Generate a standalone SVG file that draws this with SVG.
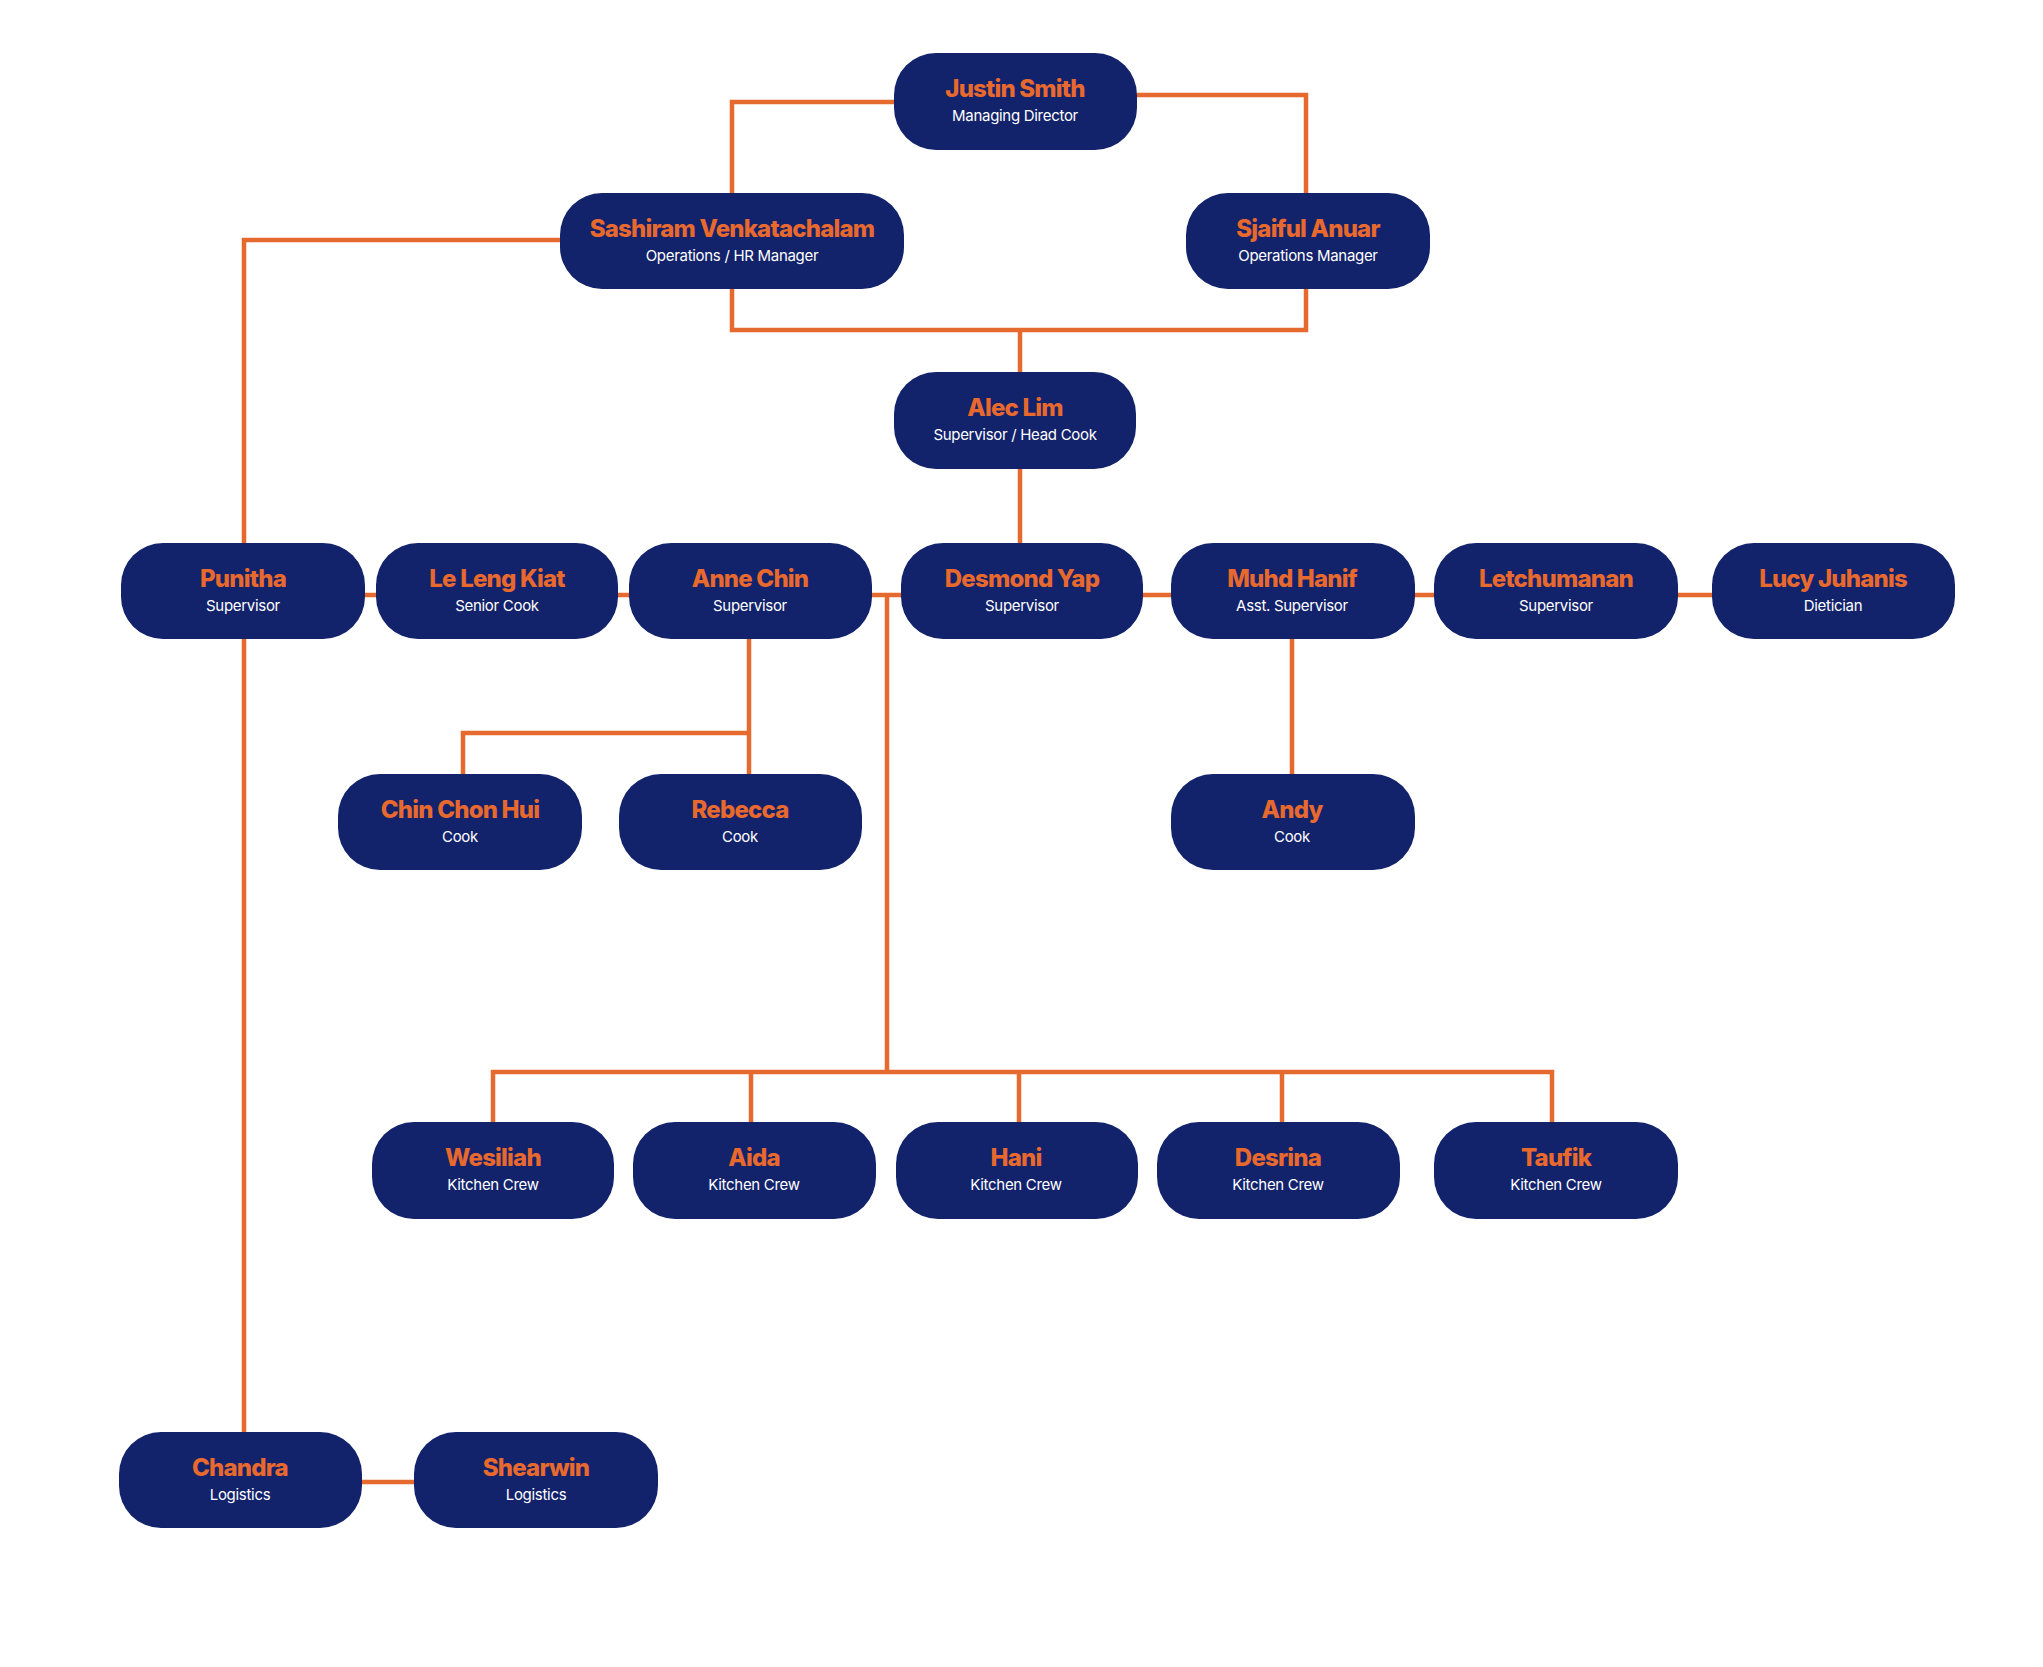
<svg xmlns="http://www.w3.org/2000/svg" width="2043" height="1667" viewBox="0 0 2043 1667">
<style>
.n{fill:#12226b}
.nm{font-family:Inter,"Liberation Sans",sans-serif;font-weight:800;font-size:24px;fill:#e8692e;text-anchor:middle;letter-spacing:-0.8px}
.sb{font-family:Inter,"Liberation Sans",sans-serif;font-weight:400;font-size:15px;fill:#ffffff;text-anchor:middle;letter-spacing:-0.3px}
.c{fill:none;stroke:#e66a2e;stroke-width:4.5}
</style>
<rect width="2043" height="1667" fill="#ffffff"/>
<g id="connectors">
<path class="c" d="M894 102 H732 V193"/>
<path class="c" d="M1137 95 H1306 V193"/>
<path class="c" d="M560 240 H244 V1432"/>
<path class="c" d="M732 289 V330 H1306 V289"/>
<path class="c" d="M1020 330 V372"/>
<path class="c" d="M1020 469 V543"/>
<path class="c" d="M365 595 H1712"/>
<path class="c" d="M749 639 V733 M463 774 V733 H749 V774"/>
<path class="c" d="M887 595 V1072"/>
<path class="c" d="M493 1122 V1072 H1552 V1122 M751 1072 V1122 M1019 1072 V1122 M1282 1072 V1122"/>
<path class="c" d="M1292 639 V774"/>
<path class="c" d="M362 1482 H414"/>
</g>
<g id="justin"><rect class="n" x="894" y="53" width="243" height="97" rx="42"/><text class="nm" x="1015" y="97">Justin Smith</text><text class="sb" x="1015" y="121">Managing Director</text></g>
<g id="sashiram"><rect class="n" x="560" y="193" width="344" height="96" rx="42"/><text class="nm" x="732" y="237">Sashiram Venkatachalam</text><text class="sb" x="732" y="261">Operations / HR Manager</text></g>
<g id="sjaiful"><rect class="n" x="1186" y="193" width="244" height="96" rx="42"/><text class="nm" x="1308" y="237">Sjaiful Anuar</text><text class="sb" x="1308" y="261">Operations Manager</text></g>
<g id="alec"><rect class="n" x="894" y="372" width="242" height="97" rx="42"/><text class="nm" x="1015" y="416">Alec Lim</text><text class="sb" x="1015" y="440">Supervisor / Head Cook</text></g>
<g id="punitha"><rect class="n" x="121" y="543" width="244" height="96" rx="42"/><text class="nm" x="243" y="587">Punitha</text><text class="sb" x="243" y="611">Supervisor</text></g>
<g id="leleng"><rect class="n" x="376" y="543" width="242" height="96" rx="42"/><text class="nm" x="497" y="587">Le Leng Kiat</text><text class="sb" x="497" y="611">Senior Cook</text></g>
<g id="anne"><rect class="n" x="629" y="543" width="243" height="96" rx="42"/><text class="nm" x="750" y="587">Anne Chin</text><text class="sb" x="750" y="611">Supervisor</text></g>
<g id="desmond"><rect class="n" x="901" y="543" width="242" height="96" rx="42"/><text class="nm" x="1022" y="587">Desmond Yap</text><text class="sb" x="1022" y="611">Supervisor</text></g>
<g id="muhd"><rect class="n" x="1171" y="543" width="244" height="96" rx="42"/><text class="nm" x="1292" y="587">Muhd Hanif</text><text class="sb" x="1292" y="611">Asst. Supervisor</text></g>
<g id="letchumanan"><rect class="n" x="1434" y="543" width="244" height="96" rx="42"/><text class="nm" x="1556" y="587">Letchumanan</text><text class="sb" x="1556" y="611">Supervisor</text></g>
<g id="lucy"><rect class="n" x="1712" y="543" width="243" height="96" rx="42"/><text class="nm" x="1833" y="587">Lucy Juhanis</text><text class="sb" x="1833" y="611">Dietician</text></g>
<g id="chin"><rect class="n" x="338" y="774" width="244" height="96" rx="42"/><text class="nm" x="460" y="818">Chin Chon Hui</text><text class="sb" x="460" y="842">Cook</text></g>
<g id="rebecca"><rect class="n" x="619" y="774" width="243" height="96" rx="42"/><text class="nm" x="740" y="818">Rebecca</text><text class="sb" x="740" y="842">Cook</text></g>
<g id="andy"><rect class="n" x="1171" y="774" width="244" height="96" rx="42"/><text class="nm" x="1292" y="818">Andy</text><text class="sb" x="1292" y="842">Cook</text></g>
<g id="wesiliah"><rect class="n" x="372" y="1122" width="242" height="97" rx="42"/><text class="nm" x="493" y="1166">Wesiliah</text><text class="sb" x="493" y="1190">Kitchen Crew</text></g>
<g id="aida"><rect class="n" x="633" y="1122" width="243" height="97" rx="42"/><text class="nm" x="754" y="1166">Aida</text><text class="sb" x="754" y="1190">Kitchen Crew</text></g>
<g id="hani"><rect class="n" x="896" y="1122" width="242" height="97" rx="42"/><text class="nm" x="1016" y="1166">Hani</text><text class="sb" x="1016" y="1190">Kitchen Crew</text></g>
<g id="desrina"><rect class="n" x="1157" y="1122" width="243" height="97" rx="42"/><text class="nm" x="1278" y="1166">Desrina</text><text class="sb" x="1278" y="1190">Kitchen Crew</text></g>
<g id="taufik"><rect class="n" x="1434" y="1122" width="244" height="97" rx="42"/><text class="nm" x="1556" y="1166">Taufik</text><text class="sb" x="1556" y="1190">Kitchen Crew</text></g>
<g id="chandra"><rect class="n" x="119" y="1432" width="243" height="96" rx="42"/><text class="nm" x="240" y="1476">Chandra</text><text class="sb" x="240" y="1500">Logistics</text></g>
<g id="shearwin"><rect class="n" x="414" y="1432" width="244" height="96" rx="42"/><text class="nm" x="536" y="1476">Shearwin</text><text class="sb" x="536" y="1500">Logistics</text></g>
</svg>
